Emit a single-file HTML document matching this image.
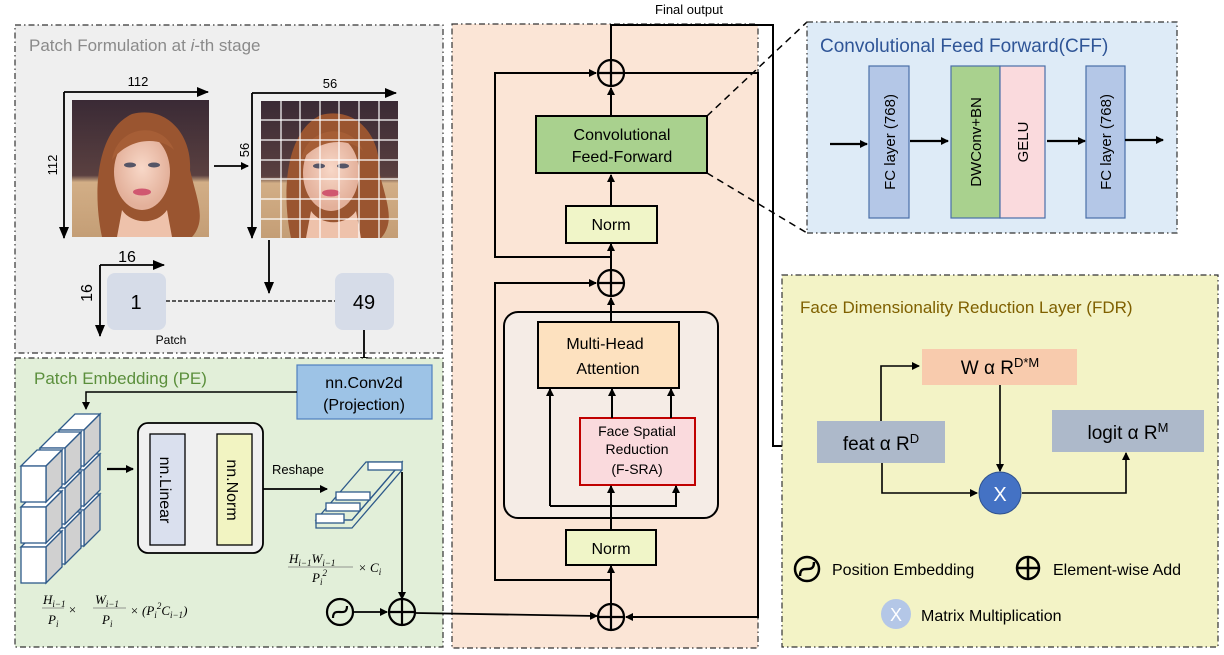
<!DOCTYPE html>
<html><head><meta charset="utf-8"><style>
html,body{margin:0;padding:0;background:#fff;}
svg{display:block;font-family:"Liberation Sans",sans-serif;}
</style></head><body>
<svg width="1224" height="655" viewBox="0 0 1224 655" xmlns="http://www.w3.org/2000/svg">
<defs>
<marker id="a" markerWidth="8" markerHeight="8" refX="7" refY="4" orient="auto" markerUnits="userSpaceOnUse"><path d="M0,0 L8,4 L0,8 z" fill="#000"/></marker>
<marker id="b" markerWidth="12" markerHeight="10" refX="11" refY="5" orient="auto" markerUnits="userSpaceOnUse"><path d="M0,0 L12,5 L0,10 z" fill="#000"/></marker>
<linearGradient id="bg1" x1="0" y1="0" x2="0" y2="1"><stop offset="0" stop-color="#3a2a35"/><stop offset="0.55" stop-color="#5a4040"/><stop offset="0.6" stop-color="#d2ae86"/><stop offset="1" stop-color="#c49e76"/></linearGradient>
<radialGradient id="face" cx="0.5" cy="0.45" r="0.5"><stop offset="0" stop-color="#f8d8c8"/><stop offset="1" stop-color="#e3b09a"/></radialGradient>
<g id="img">
<rect x="0" y="0" width="137" height="137" fill="url(#bg1)"/>
<path d="M30,137 C20,90 25,30 60,14 C95,5 120,35 118,70 C125,100 135,120 120,137 Z" fill="#9a5530"/>
<ellipse cx="70" cy="72" rx="28" ry="38" fill="url(#face)"/>
<path d="M40,60 C45,25 90,20 102,50 C90,38 60,35 40,60 Z" fill="#a65e36"/>
<ellipse cx="58" cy="65" rx="6" ry="2.5" fill="#556"/><ellipse cx="82" cy="65" rx="6" ry="2.5" fill="#556"/>
<ellipse cx="70" cy="92" rx="9" ry="3.5" fill="#d05870"/>
<path d="M50,110 C60,125 85,125 95,110 L100,137 L45,137 Z" fill="#eec2ab"/>
</g>
<g id="cube"><polygon points="0,0 16,-16 41,-16 25,0" fill="#fff"/><polygon points="25,0 41,-16 41,20 25,36" fill="#d0d0d0"/><rect x="0" y="0" width="25" height="36" fill="#fff"/></g>
</defs>

<!-- Panel: Patch formulation -->
<rect x="15" y="25" width="428" height="328" fill="#efefef" stroke="#333" stroke-width="1.2" stroke-dasharray="6,3,1.5,3"/>
<text x="29" y="51" font-size="17" fill="#8a8a8a">Patch Formulation at <tspan font-style="italic">i</tspan>-th stage</text>
<use href="#img" x="72" y="100"/>
<use href="#img" x="261" y="101"/>
<g stroke="#fff" stroke-width="1.2">
<line x1="281" y1="101" x2="281" y2="238"/><line x1="300" y1="101" x2="300" y2="238"/><line x1="320" y1="101" x2="320" y2="238"/><line x1="339" y1="101" x2="339" y2="238"/><line x1="359" y1="101" x2="359" y2="238"/><line x1="379" y1="101" x2="379" y2="238"/>
<line x1="261" y1="120" x2="398" y2="120"/><line x1="261" y1="140" x2="398" y2="140"/><line x1="261" y1="160" x2="398" y2="160"/><line x1="261" y1="179" x2="398" y2="179"/><line x1="261" y1="199" x2="398" y2="199"/><line x1="261" y1="219" x2="398" y2="219"/>
</g>
<g stroke="#000" stroke-width="1.8" fill="none">
<line x1="64" y1="92" x2="208" y2="92" marker-end="url(#b)"/><line x1="64" y1="92" x2="64" y2="238" marker-end="url(#b)"/>
<line x1="252" y1="93" x2="396" y2="93" marker-end="url(#b)"/><line x1="252" y1="93" x2="252" y2="238" marker-end="url(#b)"/>
<line x1="214" y1="166" x2="248" y2="166" marker-end="url(#a)"/>
<line x1="269" y1="240" x2="269" y2="293" marker-end="url(#b)"/>
<line x1="100" y1="265" x2="164" y2="265" marker-end="url(#b)"/><line x1="100" y1="265" x2="100" y2="336" marker-end="url(#b)"/>
<line x1="364" y1="330" x2="364" y2="364" marker-end="url(#a)"/>
</g>
<text x="138" y="86" font-size="13" text-anchor="middle">112</text>
<text x="330" y="88" font-size="13" text-anchor="middle">56</text>
<text transform="translate(57,165) rotate(-90)" font-size="13" text-anchor="middle">112</text>
<text transform="translate(249,150) rotate(-90)" font-size="13" text-anchor="middle">56</text>
<text x="127" y="262" font-size="16" text-anchor="middle">16</text>
<text transform="translate(92,293) rotate(-90)" font-size="16" text-anchor="middle">16</text>
<rect x="107" y="273" width="59" height="57" rx="8" fill="#d6dce8"/>
<rect x="335" y="273" width="59" height="57" rx="8" fill="#d6dce8"/>
<text x="136" y="309" font-size="20" text-anchor="middle">1</text>
<text x="364" y="309" font-size="20" text-anchor="middle">49</text>
<line x1="166" y1="301" x2="335" y2="301" stroke="#000" stroke-width="1.2" stroke-dasharray="4,2"/>
<text x="171" y="344" font-size="12" text-anchor="middle">Patch</text>

<!-- Panel: Patch Embedding -->
<rect x="15" y="358" width="428" height="289" fill="#e2efd9" stroke="#333" stroke-width="1.2" stroke-dasharray="6,3,1.5,3"/>
<text x="34" y="384" font-size="17" fill="#5b8f3c">Patch Embedding (PE)</text>
<rect x="297" y="365" width="135" height="54" fill="#9dc3e6" stroke="#4f7fbf" stroke-width="1.2"/>
<text x="364" y="388" font-size="16" text-anchor="middle">nn.Conv2d</text>
<text x="364" y="410" font-size="16" text-anchor="middle">(Projection)</text>
<g stroke="#000" stroke-width="1.5" fill="none">
<polyline points="297,392 86,392 86,409" marker-end="url(#a)"/>
<line x1="107" y1="469" x2="133" y2="469" stroke-width="2.2" marker-end="url(#a)"/>
<line x1="189" y1="490" x2="212" y2="490" stroke-width="2" marker-end="url(#a)"/>
<line x1="263" y1="489" x2="327" y2="489" stroke-width="1.8" marker-end="url(#a)"/>
<line x1="402" y1="472" x2="402" y2="599" stroke-width="1.8" marker-end="url(#a)"/>
<line x1="354" y1="612" x2="387" y2="612" stroke-width="1.8" marker-end="url(#a)"/>
</g>
<!-- cubes -->
<g stroke="#2e5a8a" stroke-width="1.3">
<use href="#cube" x="59" y="510"/><use href="#cube" x="59" y="470"/><use href="#cube" x="59" y="430"/>
<use href="#cube" x="40" y="528"/><use href="#cube" x="40" y="488"/><use href="#cube" x="40" y="448"/>
<use href="#cube" x="21" y="547"/><use href="#cube" x="21" y="507"/><use href="#cube" x="21" y="466"/>
</g>
<rect x="138" y="423" width="125" height="130" rx="10" fill="#f0f0f0" stroke="#000" stroke-width="1.8"/>
<rect x="150" y="434" width="35" height="111" fill="#dae0ee" stroke="#000" stroke-width="1.3"/>
<rect x="217" y="434" width="35" height="111" fill="#f2f4c2" stroke="#000" stroke-width="1.3"/>
<text transform="translate(160,490) rotate(90)" font-size="16" text-anchor="middle">nn.Linear</text>
<text transform="translate(227,490) rotate(90)" font-size="16" text-anchor="middle">nn.Norm</text>
<text x="272" y="474" font-size="13">Reshape</text>
<g stroke="#2e5a8a" stroke-width="1.3" fill="#fff">
<polygon points="316,520 366,462 402,462 352,520" fill="none"/>
<polygon points="316,528 316,520 352,520 402,462 402,470 352,528" fill="none"/>
<rect x="368" y="462" width="34" height="8"/>
<rect x="336" y="492" width="34" height="8"/><rect x="326" y="503" width="34" height="8"/>
<rect x="316" y="514" width="28" height="9"/>
</g>
<g font-family="Liberation Serif, serif" font-style="italic" font-size="13">
<text x="289" y="563">H<tspan font-size="9" dy="3">i−1</tspan><tspan dy="-3">W</tspan><tspan font-size="9" dy="3">i−1</tspan></text>
<line x1="288" y1="567" x2="353" y2="567" stroke="#777" stroke-width="0.8"/>
<text x="312" y="582">P<tspan font-size="9" dy="3">i</tspan><tspan font-size="9" dy="-9">2</tspan></text>
<text x="358" y="572">× C<tspan font-size="9" dy="3">i</tspan></text>
<text x="43" y="604">H<tspan font-size="9" dy="3">i−1</tspan></text>
<line x1="42" y1="608" x2="64" y2="608" stroke="#777" stroke-width="0.8"/>
<text x="48" y="624">P<tspan font-size="9" dy="3">i</tspan></text>
<text x="68" y="614">×</text>
<text x="95" y="604">W<tspan font-size="9" dy="3">i−1</tspan></text>
<line x1="93" y1="608" x2="126" y2="608" stroke="#777" stroke-width="0.8"/>
<text x="102" y="624">P<tspan font-size="9" dy="3">i</tspan></text>
<text x="130" y="615">× (P<tspan font-size="9" dy="3">i</tspan><tspan font-size="9" dy="-9">2</tspan><tspan dy="6">C</tspan><tspan font-size="9" dy="3">i−1</tspan><tspan dy="-3">)</tspan></text>
</g>
<circle cx="340" cy="612" r="13" fill="none" stroke="#000" stroke-width="2.2"/>
<path d="M333,618 C333,605 347,619 347,606" fill="none" stroke="#000" stroke-width="2.2"/>
<circle cx="402" cy="612" r="13" fill="none" stroke="#000" stroke-width="2.2"/>
<line x1="389" y1="612" x2="415" y2="612" stroke="#000" stroke-width="2.2"/><line x1="402" y1="599" x2="402" y2="625" stroke="#000" stroke-width="2.2"/>

<!-- Central panel -->
<rect x="452" y="24" width="306" height="624" fill="#fbe5d6" stroke="#333" stroke-width="1.2" stroke-dasharray="6,3,1.5,3"/>
<line x1="416" y1="613" x2="597" y2="616" stroke="#000" stroke-width="1.8" marker-end="url(#a)"/>
<text x="655" y="14" font-size="13">Final output</text>
<rect x="504" y="312" width="214" height="206" rx="14" fill="#f5ece6" stroke="#000" stroke-width="2"/>
<rect x="536" y="116" width="171" height="57" fill="#a9d18e" stroke="#000" stroke-width="2"/>
<text x="622" y="140" font-size="16" text-anchor="middle">Convolutional</text>
<text x="622" y="162" font-size="16" text-anchor="middle">Feed-Forward</text>
<rect x="566" y="206" width="91" height="37" fill="#f0f5c8" stroke="#000" stroke-width="2"/>
<text x="611" y="230" font-size="16" text-anchor="middle">Norm</text>
<rect x="538" y="322" width="141" height="66" fill="#fde1bf" stroke="#000" stroke-width="2"/>
<text x="605" y="349" font-size="16" text-anchor="middle">Multi-Head</text>
<text x="608" y="374" font-size="16" text-anchor="middle">Attention</text>
<rect x="580" y="418" width="115" height="67" fill="#fadadd" stroke="#c00000" stroke-width="2"/>
<text x="637" y="436" font-size="14" text-anchor="middle">Face Spatial</text>
<text x="637" y="454" font-size="14" text-anchor="middle">Reduction</text>
<text x="637" y="474" font-size="14" text-anchor="middle">(F-SRA)</text>
<rect x="566" y="530" width="90" height="35" fill="#f0f5c8" stroke="#000" stroke-width="2"/>
<text x="611" y="554" font-size="16" text-anchor="middle">Norm</text>
<g stroke="#000" stroke-width="2" fill="none">
<polyline points="611,60 611,25 773,25 773,446 815,446" marker-end="url(#a)"/>
<line x1="611" y1="116" x2="611" y2="88" marker-end="url(#a)"/>
<polyline points="624,73 758,73 758,617 626,617" marker-end="url(#a)"/>
<polyline points="611,257 495,257 495,73 596,73" marker-end="url(#a)"/>
<line x1="611" y1="206" x2="611" y2="175" marker-end="url(#a)"/>
<line x1="611" y1="296" x2="611" y2="244" marker-end="url(#a)"/>
<line x1="611" y1="322" x2="611" y2="298" marker-end="url(#a)"/>
<polyline points="611,580 495,580 495,283 596,283" marker-end="url(#a)"/>
<line x1="611" y1="604" x2="611" y2="566" marker-end="url(#a)"/>
<line x1="611" y1="530" x2="611" y2="486" marker-end="url(#a)"/>
<polyline points="550,506 676,506 676,486" marker-end="url(#a)"/>
<line x1="550" y1="506" x2="550" y2="389" marker-end="url(#a)"/>
<line x1="612" y1="418" x2="612" y2="389" marker-end="url(#a)"/>
<line x1="671" y1="418" x2="671" y2="389" marker-end="url(#a)"/>
</g>
<g stroke="#000" stroke-width="2.2" fill="none">
<circle cx="611" cy="73" r="13"/><line x1="598" y1="73" x2="624" y2="73"/><line x1="611" y1="60" x2="611" y2="86"/>
<circle cx="611" cy="283" r="13"/><line x1="598" y1="283" x2="624" y2="283"/><line x1="611" y1="270" x2="611" y2="296"/>
<circle cx="611" cy="617" r="13"/><line x1="598" y1="617" x2="624" y2="617"/><line x1="611" y1="604" x2="611" y2="630"/>
</g>

<!-- CFF panel -->
<line x1="707" y1="116" x2="807" y2="22" stroke="#000" stroke-width="1.5" stroke-dasharray="7,5"/>
<line x1="707" y1="173" x2="807" y2="233" stroke="#000" stroke-width="1.5" stroke-dasharray="7,5"/>
<rect x="807" y="22" width="370" height="211" fill="#deebf7" stroke="#333" stroke-width="1.2" stroke-dasharray="6,3,1.5,3"/>
<text x="820" y="52" font-size="19" fill="#2f5597">Convolutional Feed Forward(CFF)</text>
<rect x="869" y="66" width="40" height="152" fill="#b4c7e7" stroke="#4a6ea8" stroke-width="1.2"/>
<rect x="951" y="66" width="49" height="152" fill="#a9d18e" stroke="#4a6ea8" stroke-width="1.2"/>
<rect x="1000" y="66" width="45" height="152" fill="#fadadd" stroke="#4a6ea8" stroke-width="1.2"/>
<rect x="1086" y="66" width="39" height="152" fill="#b4c7e7" stroke="#4a6ea8" stroke-width="1.2"/>
<text transform="translate(895,142) rotate(-90)" font-size="15" text-anchor="middle">FC layer (768)</text>
<text transform="translate(981,142) rotate(-90)" font-size="15" text-anchor="middle">DWConv+BN</text>
<text transform="translate(1028,142) rotate(-90)" font-size="15" text-anchor="middle">GELU</text>
<text transform="translate(1111,142) rotate(-90)" font-size="15" text-anchor="middle">FC layer (768)</text>
<g stroke="#000" stroke-width="2.2">
<line x1="830" y1="144" x2="867" y2="144" marker-end="url(#a)"/>
<line x1="910" y1="141" x2="948" y2="141" marker-end="url(#a)"/>
<line x1="1047" y1="141" x2="1085" y2="141" marker-end="url(#a)"/>
<line x1="1125" y1="140" x2="1163" y2="140" marker-end="url(#a)"/>
</g>

<!-- FDR panel -->
<rect x="782" y="275" width="436" height="372" fill="#f3f3c6" stroke="#333" stroke-width="1.2" stroke-dasharray="6,3,1.5,3"/>
<text x="800" y="313" font-size="17" fill="#7f6000">Face Dimensionality Reduction Layer (FDR)</text>
<rect x="922" y="349" width="155" height="36" fill="#f8cbad"/>
<text x="1000" y="374" font-size="19" text-anchor="middle">W α R<tspan font-size="13" dy="-7">D*M</tspan></text>
<rect x="817" y="421" width="128" height="42" fill="#adb9ca"/>
<text x="881" y="450" font-size="19" text-anchor="middle">feat α R<tspan font-size="13" dy="-7">D</tspan></text>
<rect x="1052" y="410" width="152" height="42" fill="#adb9ca"/>
<text x="1128" y="439" font-size="19" text-anchor="middle">logit α R<tspan font-size="13" dy="-7">M</tspan></text>
<g stroke="#000" stroke-width="1.6" fill="none">
<polyline points="881,421 881,366 919,366" marker-end="url(#a)"/>
<polyline points="882,463 882,493 977,493" marker-end="url(#a)"/>
<line x1="1000" y1="385" x2="1000" y2="471" marker-end="url(#a)"/>
<polyline points="1022,493 1126,493 1126,453" marker-end="url(#a)"/>
</g>
<circle cx="1000" cy="493" r="21" fill="#4472c4" stroke="#2f528f" stroke-width="1"/>
<text x="1000" y="501" font-size="20" fill="#fff" text-anchor="middle">X</text>
<circle cx="807" cy="569" r="12" fill="none" stroke="#000" stroke-width="2.5"/>
<path d="M800,576 C800,562 814,576 814,562" fill="none" stroke="#000" stroke-width="2.5"/>
<text x="832" y="575" font-size="16">Position Embedding</text>
<circle cx="1028" cy="568" r="11" fill="none" stroke="#000" stroke-width="2.5"/>
<line x1="1017" y1="568" x2="1039" y2="568" stroke="#000" stroke-width="2.5"/><line x1="1028" y1="557" x2="1028" y2="579" stroke="#000" stroke-width="2.5"/>
<text x="1053" y="575" font-size="16">Element-wise Add</text>
<circle cx="896" cy="614" r="15" fill="#b4c7e7"/>
<text x="896" y="621" font-size="18" fill="#fff" text-anchor="middle">X</text>
<text x="921" y="621" font-size="16">Matrix Multiplication</text>
</svg>
</body></html>
